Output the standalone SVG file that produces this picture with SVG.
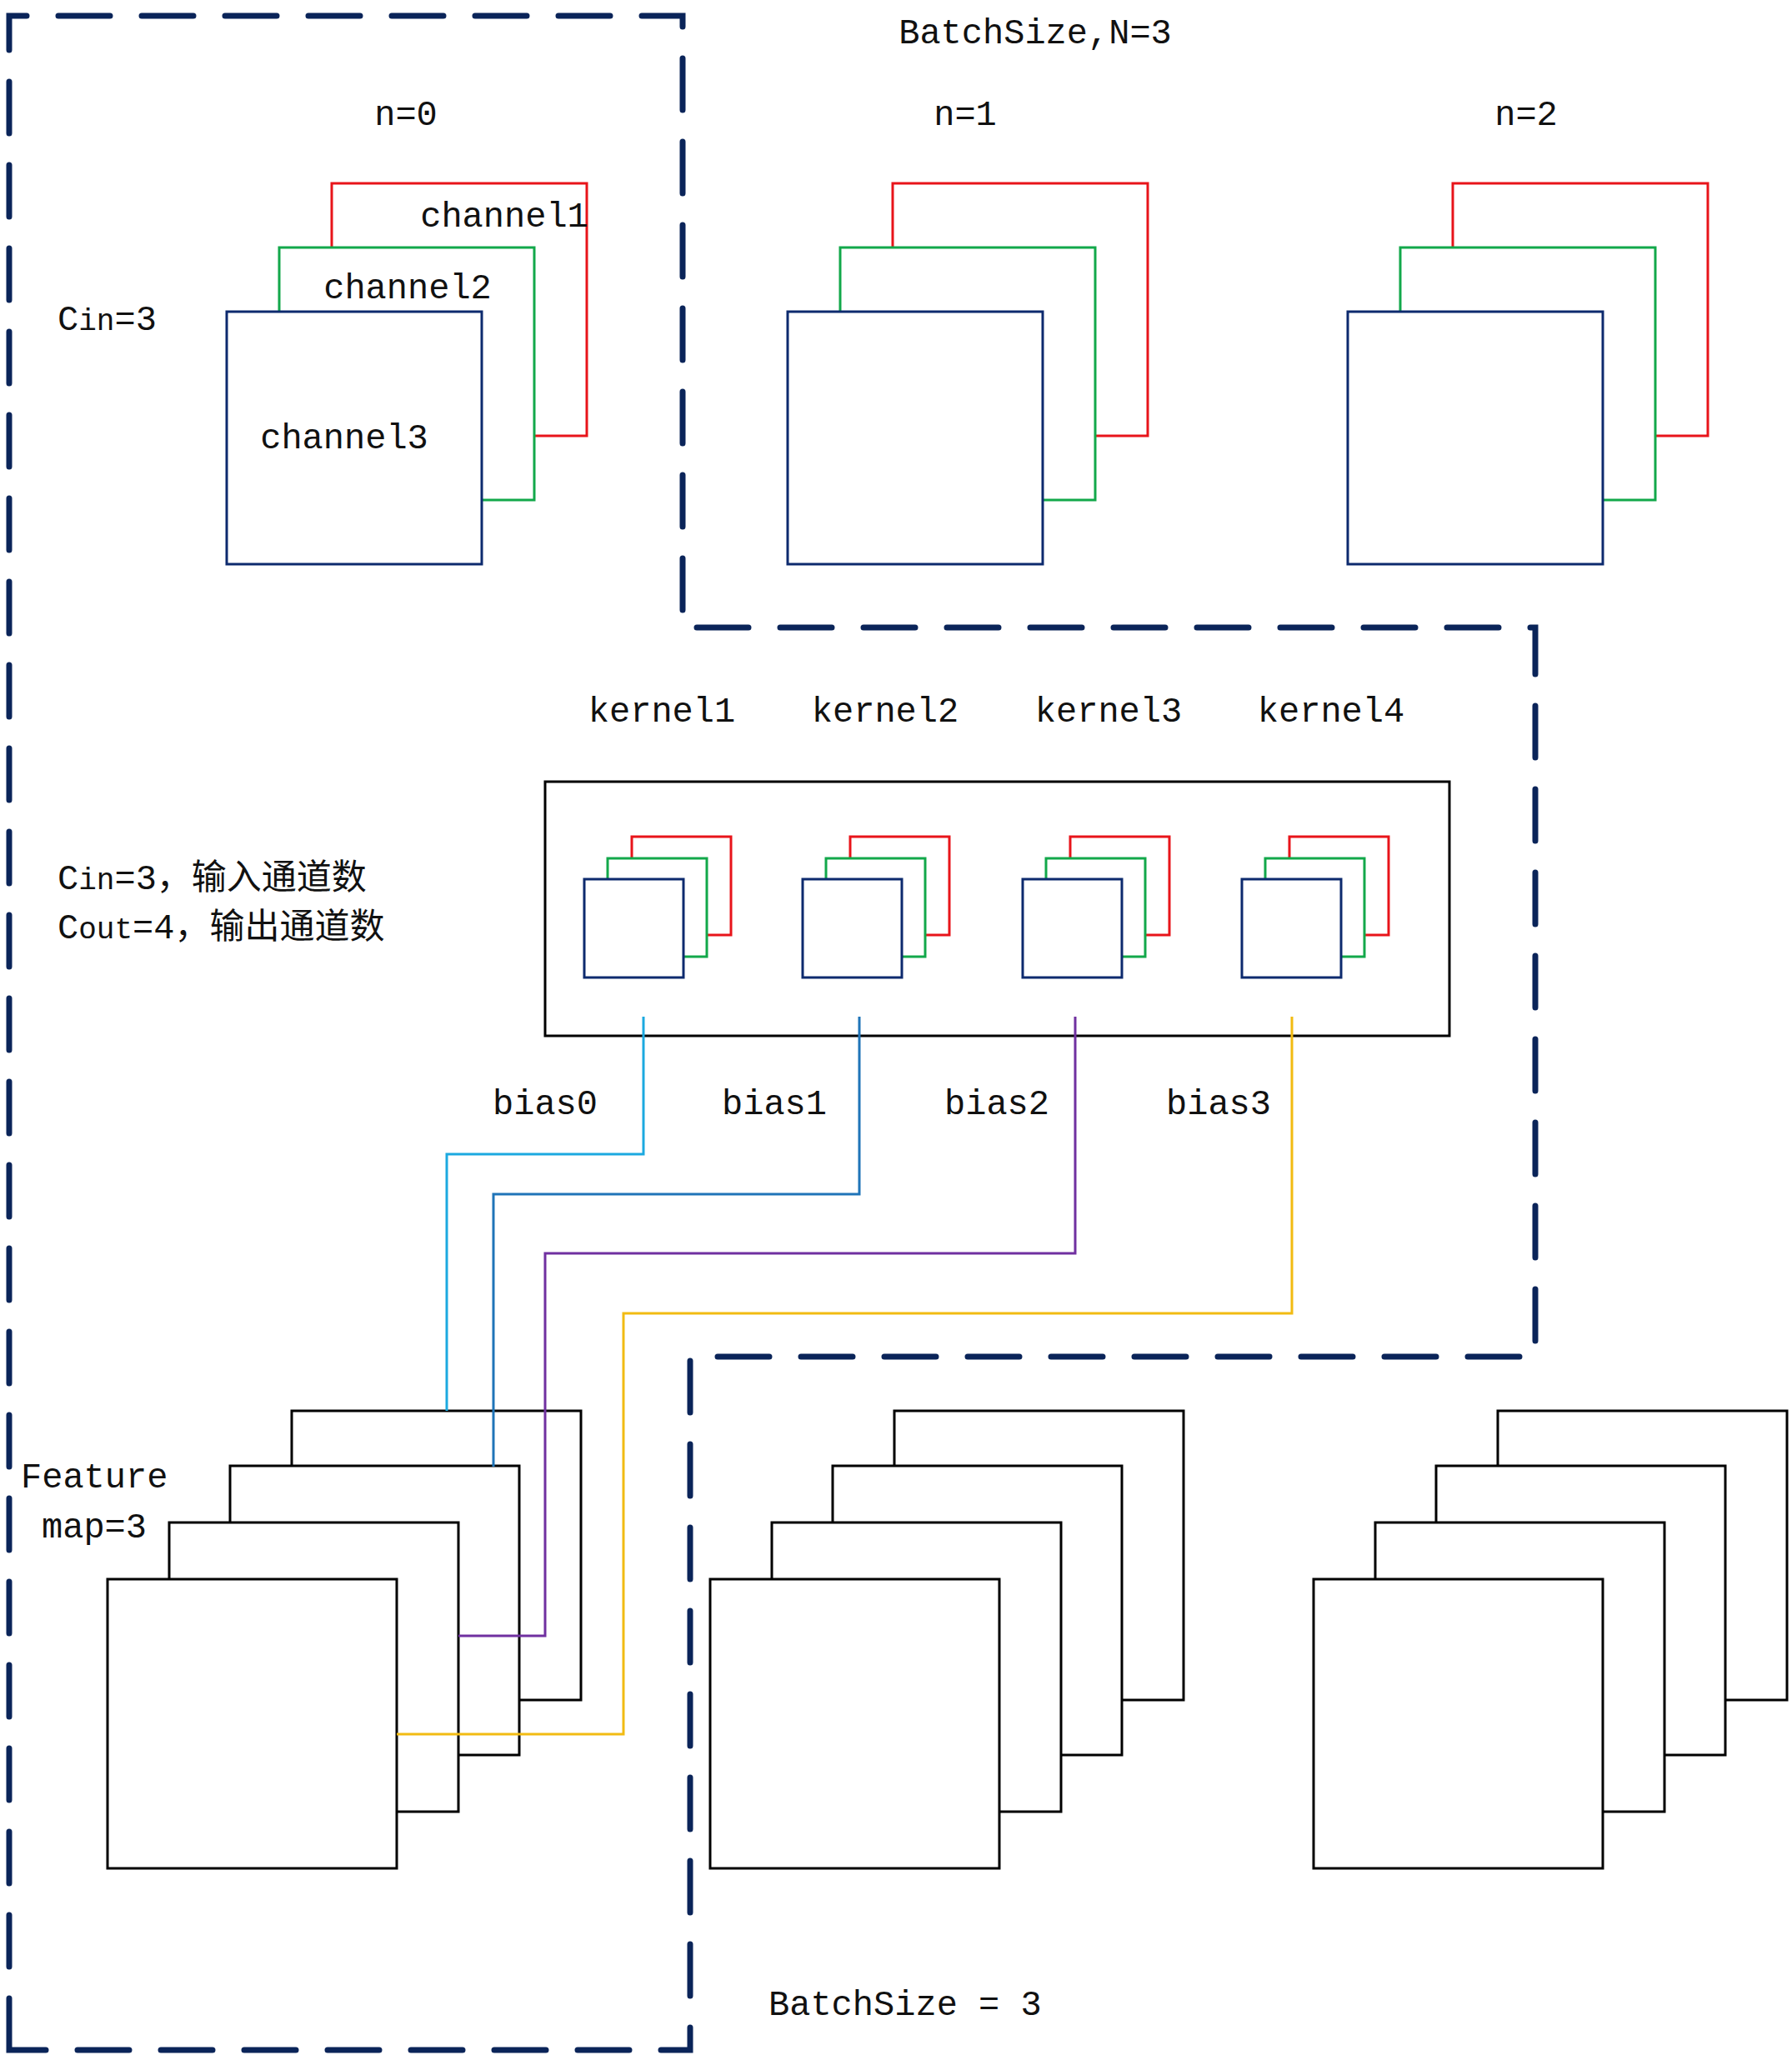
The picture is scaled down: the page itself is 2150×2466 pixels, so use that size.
<svg xmlns="http://www.w3.org/2000/svg" width="2150" height="2466" viewBox="0 0 2150 2466">
<style>
text{font-family:"Liberation Mono","Noto Sans CJK SC",monospace;font-size:42px;fill:#111}
.m{text-anchor:middle}
.dash{fill:none;stroke:#0a2459;stroke-width:7;stroke-dasharray:62 38;stroke-linecap:round}
.b{fill:#fff;stroke:#0d2a6e;stroke-width:3}
.g{fill:#fff;stroke:#12a84a;stroke-width:3}
.r{fill:none;stroke:#e8141a;stroke-width:3}
.k{fill:#fff;stroke:#000;stroke-width:3}
.w{fill:none;stroke-width:3}
</style>
<defs>
<g id="stack">
<rect class="r" x="126" y="-154" width="306" height="303"/>
<rect class="g" x="63" y="-77" width="306" height="303"/>
<rect class="b" x="0" y="0" width="306" height="303"/>
</g>
<g id="kstack">
<rect class="r" x="57" y="-51" width="119" height="118"/>
<rect class="g" x="28" y="-25" width="119" height="118"/>
<rect class="b" x="0" y="0" width="119" height="118"/>
</g>
<g id="fm">
<rect class="k" x="221" y="-202" width="347" height="347"/>
<rect class="k" x="147" y="-136" width="347" height="347"/>
<rect class="k" x="74" y="-68" width="347" height="347"/>
<rect class="k" x="0" y="0" width="347" height="347"/>
</g>
</defs>
<path class="dash" d="M11,2460 V19 H819 V753 H1842 V1628 H828 V2460 Z"/>
<text class="m" x="1242" y="52">BatchSize,N=3</text>
<g id="n0"><text class="m" x="487" y="150">n=0</text><use href="#stack" x="272" y="374"/>
<text class="m" x="605" y="272">channel1</text><text class="m" x="489" y="358">channel2</text><text class="m" x="413" y="538">channel3</text></g>
<g id="n1"><text class="m" x="1158" y="150">n=1</text><use href="#stack" x="945" y="374"/></g>
<g id="n2"><text class="m" x="1831" y="150">n=2</text><use href="#stack" x="1617" y="374"/></g>
<text x="69" y="396">C<tspan font-size="36">in</tspan>=3</text>
<g id="kernels">
<rect x="654" y="938" width="1085" height="305" fill="none" stroke="#000" stroke-width="3"/>
<use href="#kstack" x="701" y="1055"/><use href="#kstack" x="963" y="1055"/><use href="#kstack" x="1227" y="1055"/><use href="#kstack" x="1490" y="1055"/>
<text class="m" x="794" y="866">kernel1</text><text class="m" x="1062" y="866">kernel2</text><text class="m" x="1330" y="866">kernel3</text><text class="m" x="1597" y="866">kernel4</text>
</g>
<text x="69" y="1067">C<tspan font-size="36">in</tspan>=3，输入通道数</text>
<text x="69" y="1126">C<tspan font-size="36">out</tspan>=4，输出通道数</text>
<g id="fm0"><use href="#fm" x="129" y="1895"/></g>
<g id="fm1"><use href="#fm" x="852" y="1895"/></g>
<g id="fm2"><use href="#fm" x="1576" y="1895"/></g>
<g id="connectors">
<path class="w" stroke="#1ca9e0" d="M772,1220 V1385 H536 V1693"/>
<path class="w" stroke="#1f74b8" d="M1031,1220 V1433 H592 V1760"/>
<path class="w" stroke="#7030a0" d="M1290,1220 V1504 H654 V1963 H550"/>
<path class="w" stroke="#f2bb12" d="M1550,1220 V1576 H748 V2081 H476"/>
</g>
<text class="m" x="654" y="1337">bias0</text><text class="m" x="929" y="1337">bias1</text><text class="m" x="1196" y="1337">bias2</text><text class="m" x="1462" y="1337">bias3</text>
<text x="25" y="1785">Feature</text><text x="50" y="1845">map=3</text>
<text x="922" y="2418">BatchSize = 3</text>
</svg>
